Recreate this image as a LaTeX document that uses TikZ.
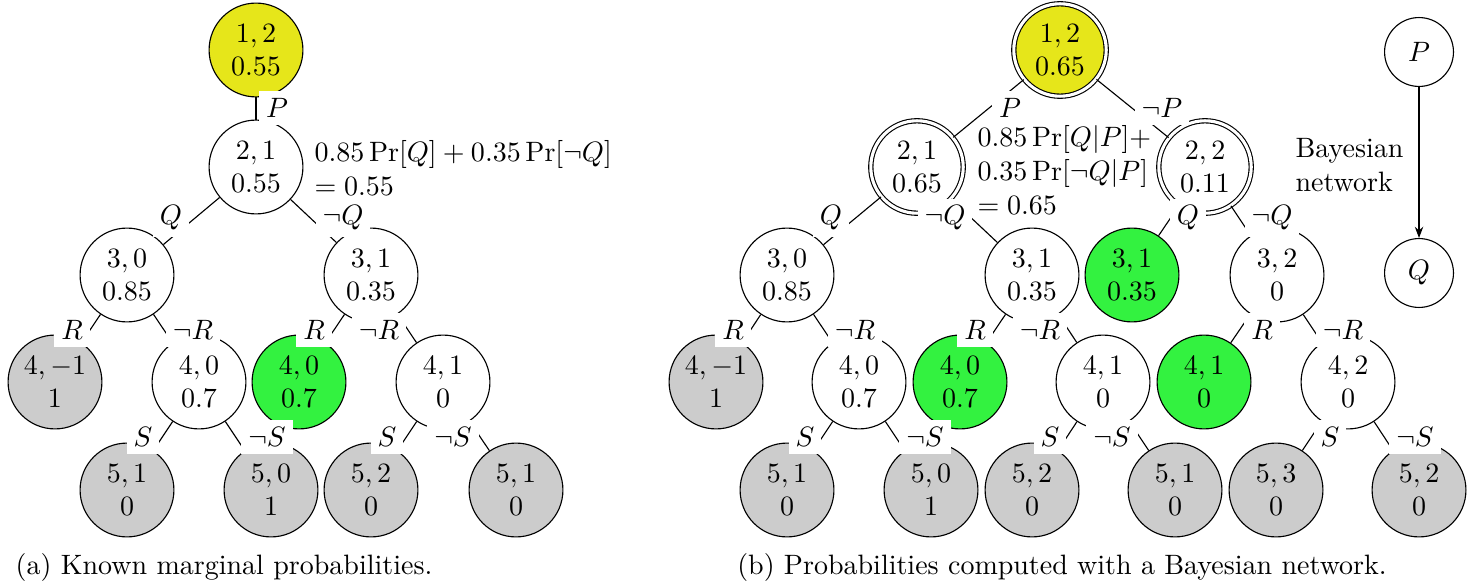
\documentclass[tikz,border=0pt]{standalone}
\usetikzlibrary{shapes.geometric,arrows.meta}
\begin{document}
\begin{tikzpicture}[x=0.357pt,y=-0.357pt,
 nd/.style={circle,draw,minimum size=33.5pt,inner sep=0pt,align=center,font=\normalsize},
 dbl/.style={nd,double,double distance=1.1pt,minimum size=33pt},
 bn/.style={circle,draw,minimum size=24.6pt,inner sep=0pt},
 yel/.style={fill={rgb,255:red,230;green,230;blue,26}},
 grn/.style={fill={rgb,255:red,51;green,242;blue,64}},
 gry/.style={fill={rgb,255:red,204;green,204;blue,204}},
 lb/.style={fill=white,inner sep=2.5pt}]
\useasboundingbox (0,0) rectangle (1467,585);
% ---------- left
\node[nd,yel] (a1) at (256,50) {$1,2$\\$0.55$};
\node[nd] (a2) at (256,167) {$2,1$\\$0.55$};
\node[nd] (a30) at (127,275) {$3,0$\\$0.85$};
\node[nd] (a31) at (371,275) {$3,1$\\$0.35$};
\node[nd,gry] (a4m) at (55,382) {$4,-1$\\$1$};
\node[nd] (a40) at (199,382) {$4,0$\\$0.7$};
\node[nd,grn] (a40g) at (299,382) {$4,0$\\$0.7$};
\node[nd] (a41) at (443,382) {$4,1$\\$0$};
\node[nd,gry] (a51) at (127,490) {$5,1$\\$0$};
\node[nd,gry] (a50) at (271,490) {$5,0$\\$1$};
\node[nd,gry] (a52) at (371,490) {$5,2$\\$0$};
\node[nd,gry] (a51b) at (516,490) {$5,1$\\$0$};
\foreach \u/\v in {a1/a2,a2/a30,a2/a31,a30/a4m,a30/a40,a31/a40g,a31/a41,a40/a51,a40/a50,a41/a52,a41/a51b}
 \draw (\u) -- (\v);
\node[lb] (lP) at (277,108) {$P$};
\node[lb] (lQ) at (171,218) {$Q$};
\node[lb] (lnQ) at (343,218) {$\neg Q$};
\node[lb] (lR1) at (72,330) {$R$};
\node[lb] (lnR1) at (193,330) {$\neg R$};
\node[lb] (lR2) at (314,330) {$R$};
\node[lb] (lnR2) at (379,330) {$\neg R$};
\node[lb] (lS1) at (143,437) {$S$};
\node[lb] (lnS1) at (267,437) {$\neg S$};
\node[lb] (lS2) at (387,437) {$S$};
\node[lb] (lnS2) at (453,437) {$\neg S$};
\node[anchor=west,align=left,inner sep=0pt] (ann1) at (314,168) {$0.85\Pr[Q]+0.35\Pr[\neg Q]$\\$=0.55$};
\node (capa) at (224,567) {(a) Known marginal probabilities.};
% ---------- right
\node[dbl,yel] (b1) at (1060,50) {$1,2$\\$0.65$};
\node[dbl] (b21) at (917,167) {$2,1$\\$0.65$};
\node[dbl] (b22) at (1205,167) {$2,2$\\$0.11$};
\node[nd] (b30) at (787,275) {$3,0$\\$0.85$};
\node[nd] (b31) at (1032,275) {$3,1$\\$0.35$};
\node[nd,grn] (b31g) at (1132,275) {$3,1$\\$0.35$};
\node[nd] (b32) at (1277,275) {$3,2$\\$0$};
\node[nd,gry] (b4m) at (716,382) {$4,-1$\\$1$};
\node[nd] (b40) at (859,382) {$4,0$\\$0.7$};
\node[nd,grn] (b40g) at (960,382) {$4,0$\\$0.7$};
\node[nd] (b41) at (1103,382) {$4,1$\\$0$};
\node[nd,grn] (b41g) at (1204,382) {$4,1$\\$0$};
\node[nd] (b42) at (1348,382) {$4,2$\\$0$};
\node[nd,gry] (b51) at (787,490) {$5,1$\\$0$};
\node[nd,gry] (b50) at (931,490) {$5,0$\\$1$};
\node[nd,gry] (b52) at (1032,490) {$5,2$\\$0$};
\node[nd,gry] (b51b) at (1175,490) {$5,1$\\$0$};
\node[nd,gry] (b53) at (1276,490) {$5,3$\\$0$};
\node[nd,gry] (b52b) at (1419,490) {$5,2$\\$0$};
\foreach \u/\v in {b1/b21,b1/b22,b21/b30,b21/b31,b22/b31g,b22/b32,b30/b4m,b30/b40,b31/b40g,b31/b41,b32/b41g,b32/b42,b40/b51,b40/b50,b41/b52,b41/b51b,b42/b53,b42/b52b}
 \draw (\u) -- (\v);
\node[lb] (mP) at (1010,108) {$P$};
\node[lb] (mnP) at (1162,108) {$\neg P$};
\node[lb] (mQ1) at (831,218) {$Q$};
\node[lb] (mnQ1) at (945,218) {$\neg Q$};
\node[lb] (mQ2) at (1188,218) {$Q$};
\node[lb] (mnQ2) at (1272,218) {$\neg Q$};
\node[lb] (mR1) at (733,330) {$R$};
\node[lb] (mnR1) at (855,330) {$\neg R$};
\node[lb] (mR2) at (975,330) {$R$};
\node[lb] (mnR2) at (1040,330) {$\neg R$};
\node[lb] (mR3) at (1262,330) {$R$};
\node[lb] (mnR3) at (1343,330) {$\neg R$};
\node[lb] (mS1) at (805,437) {$S$};
\node[lb] (mnS1) at (925,437) {$\neg S$};
\node[lb] (mS2) at (1050,437) {$S$};
\node[lb] (mnS2) at (1112,437) {$\neg S$};
\node[lb] (mS3) at (1330,437) {$S$};
\node[lb] (mnS3) at (1415,437) {$\neg S$};
\node[anchor=west,align=left,inner sep=0pt] (ann2) at (977,170) {$0.85\Pr[Q|P]+$\\$0.35\Pr[\neg Q|P]$\\$=0.65$};
\node[bn] (bp) at (1419,52) {$P$};
\node[bn] (bq) at (1419,273) {$Q$};
\draw[-{Stealth[length=4pt,width=3pt]}] (bp) -- (bq);
\node[anchor=west,align=left,inner sep=0pt] (bnt) at (1295,165) {Bayesian\\network};
\node (capb) at (1062,567) {(b) Probabilities computed with a Bayesian network.};
\end{tikzpicture}
\end{document}
